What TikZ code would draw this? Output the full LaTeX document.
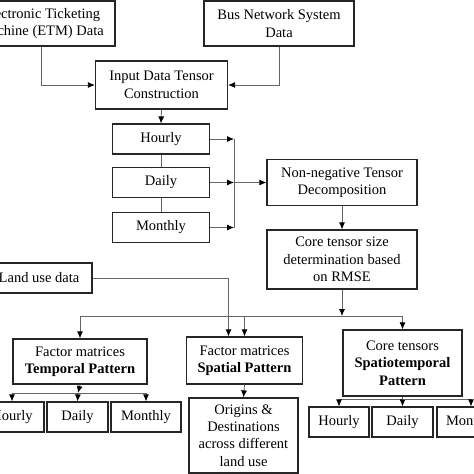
\documentclass[tikz,border=0pt]{standalone}
\usepackage{fontspec}
\setmainfont{Liberation Serif}
\usetikzlibrary{arrows.meta}

\begin{document}
\begin{tikzpicture}[x=1pt,y=-1pt,
    box/.style={draw=black!85, line width=1.2pt, align=center, inner sep=0pt,
      font=\fontsize{14.5}{17.4}\selectfont},
    conn/.style={draw=black!60, line width=0.8pt, -{Latex[length=7pt,width=6pt,color=black]}},
    link/.style={draw=black!60, line width=0.8pt}]
    \useasboundingbox (0,0) rectangle (474,474);

    % data sources
    \node[box, minimum width=148pt, minimum height=45pt] (etm) at (41,23.5) {Electronic Ticketing\\Machine (ETM) Data};
    \node[box, minimum width=150pt, minimum height=45pt] (bns) at (279,23.5) {Bus Network System\\Data};
    \node[box, minimum width=132pt, minimum height=48pt] (input) at (161.5,85) {Input Data Tensor\\Construction};

    % time scales
    \node[box, minimum width=97pt, minimum height=30pt] (hour) at (161,139) {Hourly};
    \node[box, minimum width=97pt, minimum height=30pt] (day) at (161,182.5) {Daily};
    \node[box, minimum width=97pt, minimum height=30pt] (month) at (161,227.5) {Monthly};

    \node[box, minimum width=150pt, minimum height=46pt] (ntd) at (342,182.5) {Non-negative Tensor\\Decomposition};
    \node[box, minimum width=150pt, minimum height=59pt] (core) at (342,259.5) {Core tensor size\\determination based\\on RMSE};
    \node[box, minimum width=106pt, minimum height=30pt] (land) at (39,278) {Land use data};

    % patterns
    \node[box, minimum width=134pt, minimum height=45pt] (temp) at (80,361.5) {Factor matrices\\\textbf{Temporal Pattern}};
    \node[box, minimum width=116pt, minimum height=47pt] (spat) at (244.5,360.5) {Factor matrices\\\textbf{Spatial Pattern}};
    \node[box, minimum width=119pt, minimum height=66pt] (ct) at (402.5,363) {Core tensors\\\textbf{Spatiotemporal}\\\textbf{Pattern}};
    \node[box, minimum width=109pt, minimum height=75pt] (od) at (243.5,435.5) {Origins \&\\Destinations\\across different\\land use};

    \node[box, minimum width=64pt, minimum height=30pt] (thour) at (12,417) {Hourly};
    \node[box, minimum width=61pt, minimum height=30pt] (tday) at (77.5,417) {Daily};
    \node[box, minimum width=70pt, minimum height=30pt] (tmonth) at (146,417) {Monthly};
    \node[box, minimum width=60pt, minimum height=30pt] (chour) at (339,422) {Hourly};
    \node[box, minimum width=61pt, minimum height=30pt] (cday) at (402.5,422) {Daily};
    \node[box, minimum width=68pt, minimum height=30pt] (cmonth) at (471,422) {Monthly};

    \coordinate (tj) at (234,182.5);
    \coordinate (fk) at (342,316);
    \coordinate (tb) at (78,393);
    \coordinate (cb) at (402.5,399);

    \draw[conn] (etm.south) |- (input.west);
    \draw[conn] (bns.south) |- (input.east);
    \draw[conn] (input.south) -- (hour.north);
    \draw[link] (hour) -- (day);
    \draw[link] (day) -- (month);

    \draw[conn] (hour.east) -- (hour.east -| tj);
    \draw[conn] (day.east) -- (tj);
    \draw[conn] (month.east) -- (month.east -| tj);
    \draw[link] (hour.east -| tj) -- (month.east -| tj);
    \draw[conn] (tj) -- (ntd.west);
    \draw[conn] (ntd) -- (core);

    \draw[conn] (core.south) -- (fk);
    \draw[conn] (fk) -| (temp.north);
    \draw[conn] (fk) -| (ct.north);
    \draw[conn] (fk -| spat.north) -- (spat.north);
    \draw[conn] (land.east) -| ([xshift=-16pt]spat.north);
    \draw[conn] (spat.south) -- (od.north);

    \draw[conn] (temp.south) -- (tb);
    \draw[conn] (tb) -| (thour.north);
    \draw[conn] (tb) -- (tday.north);
    \draw[conn] (tb) -| (tmonth.north);

    \draw[link] (ct.south) -- (cb);
    \draw[conn] (cb) -| (chour.north);
    \draw[conn] (cb) -- (cday.north);
    \draw[conn] (cb) -| (cmonth.north);
\end{tikzpicture}
\end{document}
